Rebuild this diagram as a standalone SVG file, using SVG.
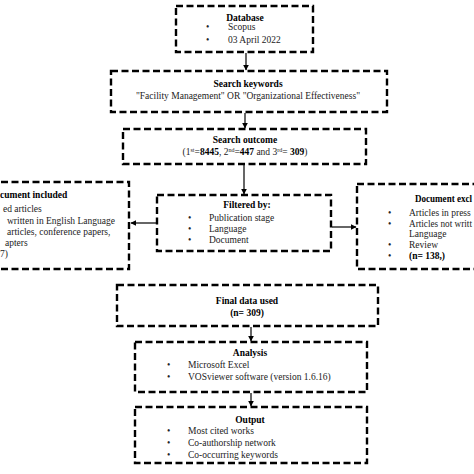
<svg xmlns="http://www.w3.org/2000/svg" width="474" height="474" viewBox="0 0 474 474">
<style>
.box{fill:#fff;stroke:#000;stroke-width:2.4;stroke-dasharray:7 3.5}
text{font-family:"Liberation Serif","Times New Roman",serif;font-size:9.5px;fill:#222}
.t{font-weight:bold;fill:#000}
.c{text-anchor:middle}
.ln{stroke:#000;stroke-width:1.2;fill:none}
</style>
<defs>
<marker id="ah" viewBox="0 0 10 10" refX="9" refY="5" markerWidth="6" markerHeight="6" orient="auto" markerUnits="userSpaceOnUse">
<path d="M0,0 L10,5 L0,10 z" fill="#000"/>
</marker>
</defs>
<rect width="474" height="474" fill="#fff"/>
<g id="connectors">
<line class="ln" x1="246" y1="53" x2="246" y2="70" marker-end="url(#ah)"/>
<line class="ln" x1="245" y1="113" x2="245" y2="128" marker-end="url(#ah)"/>
<line class="ln" x1="244" y1="165" x2="244" y2="194" marker-end="url(#ah)"/>
<line class="ln" x1="156" y1="223" x2="131" y2="223" marker-end="url(#ah)"/>
<line class="ln" x1="332" y1="227" x2="356" y2="227" marker-end="url(#ah)"/>
<line class="ln" x1="251" y1="327" x2="251" y2="341" marker-end="url(#ah)"/>
<line class="ln" x1="251" y1="393" x2="251" y2="406" marker-end="url(#ah)"/>
</g>
<g id="database">
<rect class="box" x="176" y="6" width="137" height="46"/>
<text class="t c" x="245" y="21">Database</text>
<text x="206" y="30">•</text><text x="228" y="30">Scopus</text>
<text x="206" y="43">•</text><text x="228" y="43">03 April 2022</text>
</g>
<g id="search-keywords">
<rect class="box" x="111" y="71" width="276" height="41"/>
<text class="t c" x="248" y="87">Search keywords</text>
<text class="c" x="248" y="99">"Facility Management" OR "Organizational Effectiveness"</text>
</g>
<g id="search-outcome">
<rect class="box" x="123" y="129" width="243" height="35"/>
<text class="t c" x="245" y="143">Search outcome</text>
<text class="c" x="245" y="155">(1<tspan font-size="6" dy="-3">st</tspan><tspan dy="3">=</tspan><tspan class="t">8445</tspan>, 2<tspan font-size="6" dy="-3">nd</tspan><tspan dy="3">=</tspan><tspan class="t">447</tspan> and 3<tspan font-size="6" dy="-3">rd</tspan><tspan dy="3">= </tspan><tspan class="t">309</tspan>)</text>
</g>
<g id="document-included">
<rect class="box" x="-20" y="182" width="149" height="87"/>
<text class="t" x="0" y="198">cument included</text>
<text x="3" y="212">ed articles</text>
<text x="7" y="224">written in English Language</text>
<text x="7" y="235">articles, conference papers,</text>
<text x="5" y="246">apters</text>
<text x="0" y="257">7)</text>
</g>
<g id="filtered-by">
<rect class="box" x="157" y="195" width="174" height="56"/>
<text class="t c" x="247" y="208">Filtered by:</text>
<text x="188" y="221">•</text><text x="209" y="221">Publication stage</text>
<text x="188" y="232">•</text><text x="209" y="232">Language</text>
<text x="188" y="243">•</text><text x="209" y="243">Document</text>
</g>
<g id="document-excluded">
<rect class="box" x="357" y="184" width="140" height="85"/>
<text class="t" x="415" y="202" textLength="57" lengthAdjust="spacingAndGlyphs">Document excl</text>
<text x="388" y="216">•</text><text x="409" y="216">Articles in press</text>
<text x="388" y="227">•</text><text x="409" y="227" textLength="63" lengthAdjust="spacingAndGlyphs">Articles not writt</text>
<text x="409" y="237">Language</text>
<text x="388" y="248">•</text><text x="409" y="248">Review</text>
<text x="388" y="259">•</text><text class="t" x="409" y="259">(n= 138,)</text>
</g>
<g id="final-data">
<rect class="box" x="117" y="285" width="261" height="41"/>
<text class="t c" x="247" y="304">Final data used</text>
<text class="t c" x="247" y="316">(n= 309)</text>
</g>
<g id="analysis">
<rect class="box" x="135" y="342" width="232" height="50"/>
<text class="t c" x="250" y="356">Analysis</text>
<text x="167" y="368">•</text><text x="188" y="368">Microsoft Excel</text>
<text x="167" y="380">•</text><text x="188" y="380">VOSviewer software (version 1.6.16)</text>
</g>
<g id="output">
<rect class="box" x="135" y="407" width="232" height="56"/>
<text class="t c" x="250" y="423">Output</text>
<text x="167" y="434">•</text><text x="188" y="434">Most cited works</text>
<text x="167" y="446">•</text><text x="188" y="446">Co-authorship network</text>
<text x="167" y="458">•</text><text x="188" y="458">Co-occurring keywords</text>
</g>
</svg>
